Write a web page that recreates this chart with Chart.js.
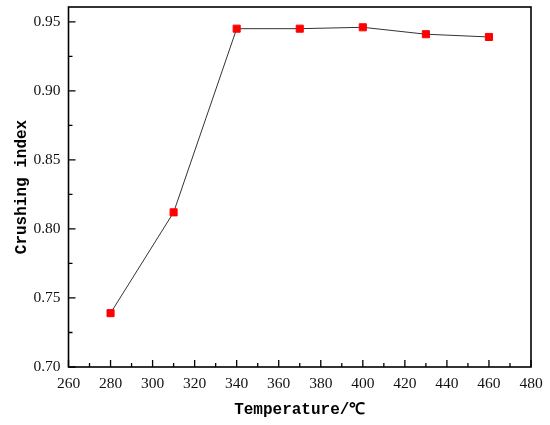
<!DOCTYPE html>
<html>
<head>
<meta charset="utf-8">
<script src="https://cdn.jsdelivr.net/npm/chart.js@4"></script>
<style>
  html, body { margin: 0; padding: 0; background: #fff; }
  #wrap { width: 550px; height: 425px; }
</style>
</head>
<body>
<div id="wrap"><canvas id="chart"></canvas></div>
<script>
// values
const temperatures = [280, 310, 340, 370, 400, 430, 460];
const crushingIndex = [0.739, 0.812, 0.945, 0.945, 0.946, 0.941, 0.939];
const xTicks = [260, 280, 300, 320, 340, 360, 380, 400, 420, 440, 460, 480];
const yTicks = [0.70, 0.75, 0.80, 0.85, 0.90, 0.95];

const serif = '"Liberation Serif", "DejaVu Serif", serif';
const mono = '"Liberation Mono", "DejaVu Sans Mono", monospace';

// frame with inward major + minor ticks, origin style
const framePlugin = {
  id: 'frame',
  afterDatasetsDraw(chart) {
    const { ctx, chartArea: a, scales: { x, y } } = chart;
    ctx.save();
    ctx.strokeStyle = '#000';
    ctx.lineWidth = 1.6;
    ctx.strokeRect(a.left, a.top, a.right - a.left, a.bottom - a.top);

    ctx.lineWidth = 1.3;
    ctx.beginPath();
    for (let v = 260; v <= 480; v += 10) {
      const px = x.getPixelForValue(v);
      const len = (v % 20 === 0) ? 7 : 4;
      ctx.moveTo(px, a.bottom);
      ctx.lineTo(px, a.bottom - len);
    }
    for (let i = 0; i <= 10; i++) {
      const v = 0.70 + i * 0.025;
      const py = y.getPixelForValue(v);
      const len = (i % 2 === 0) ? 7 : 4;
      ctx.moveTo(a.left, py);
      ctx.lineTo(a.left + len, py);
    }
    ctx.stroke();
    ctx.restore();
  }
};

new Chart(document.getElementById('chart'), {
  type: 'scatter',
  data: {
    datasets: [{
      data: temperatures.map((t, i) => ({ x: t, y: crushingIndex[i] })),
      showLine: true,
      borderColor: '#333',
      borderWidth: 1,
      pointStyle: 'rect',
      pointRadius: 5,
      pointBorderWidth: 1,
      pointBackgroundColor: '#ff0000',
      pointBorderColor: '#ff0000'
    }]
  },
  options: {
    responsive: true,
    maintainAspectRatio: false,
    animation: false,
    layout: { padding: { top: 7, right: 19, left: 0, bottom: 0 } },
    plugins: {
      legend: { display: false },
      tooltip: { enabled: false }
    },
    scales: {
      x: {
        type: 'linear',
        min: 260,
        max: 480,
        afterBuildTicks: s => { s.ticks = xTicks.map(v => ({ value: v })); },
        afterFit: s => { s.height = 58; s.paddingLeft = 0; s.paddingRight = 0; },
        grid: { display: false, drawTicks: false },
        border: { display: false },
        ticks: {
          padding: 8,
          color: '#111',
          font: { family: serif, size: 15.5 },
          maxRotation: 0,
          callback: v => String(v)
        },
        title: {
          display: true,
          text: 'Temperature/℃',
          color: '#000',
          font: { family: mono, size: 16, weight: 'bold' },
          padding: { top: 0, bottom: 5 }
        }
      },
      y: {
        min: 0.70,
        max: 0.9607,
        afterBuildTicks: s => { s.ticks = yTicks.map(v => ({ value: v })); },
        afterFit: s => { s.width = 68.5; s.paddingTop = 0; s.paddingBottom = 0; },
        grid: { display: false, drawTicks: false },
        border: { display: false },
        ticks: {
          padding: 8,
          color: '#111',
          font: { family: serif, size: 15.5 },
          callback: v => v.toFixed(2)
        },
        title: {
          display: true,
          text: 'Crushing index',
          color: '#000',
          font: { family: mono, size: 16, weight: 'bold' },
          padding: { top: 12, bottom: 0 }
        }
      }
    }
  },
  plugins: [framePlugin]
});
</script>
</body>
</html>
